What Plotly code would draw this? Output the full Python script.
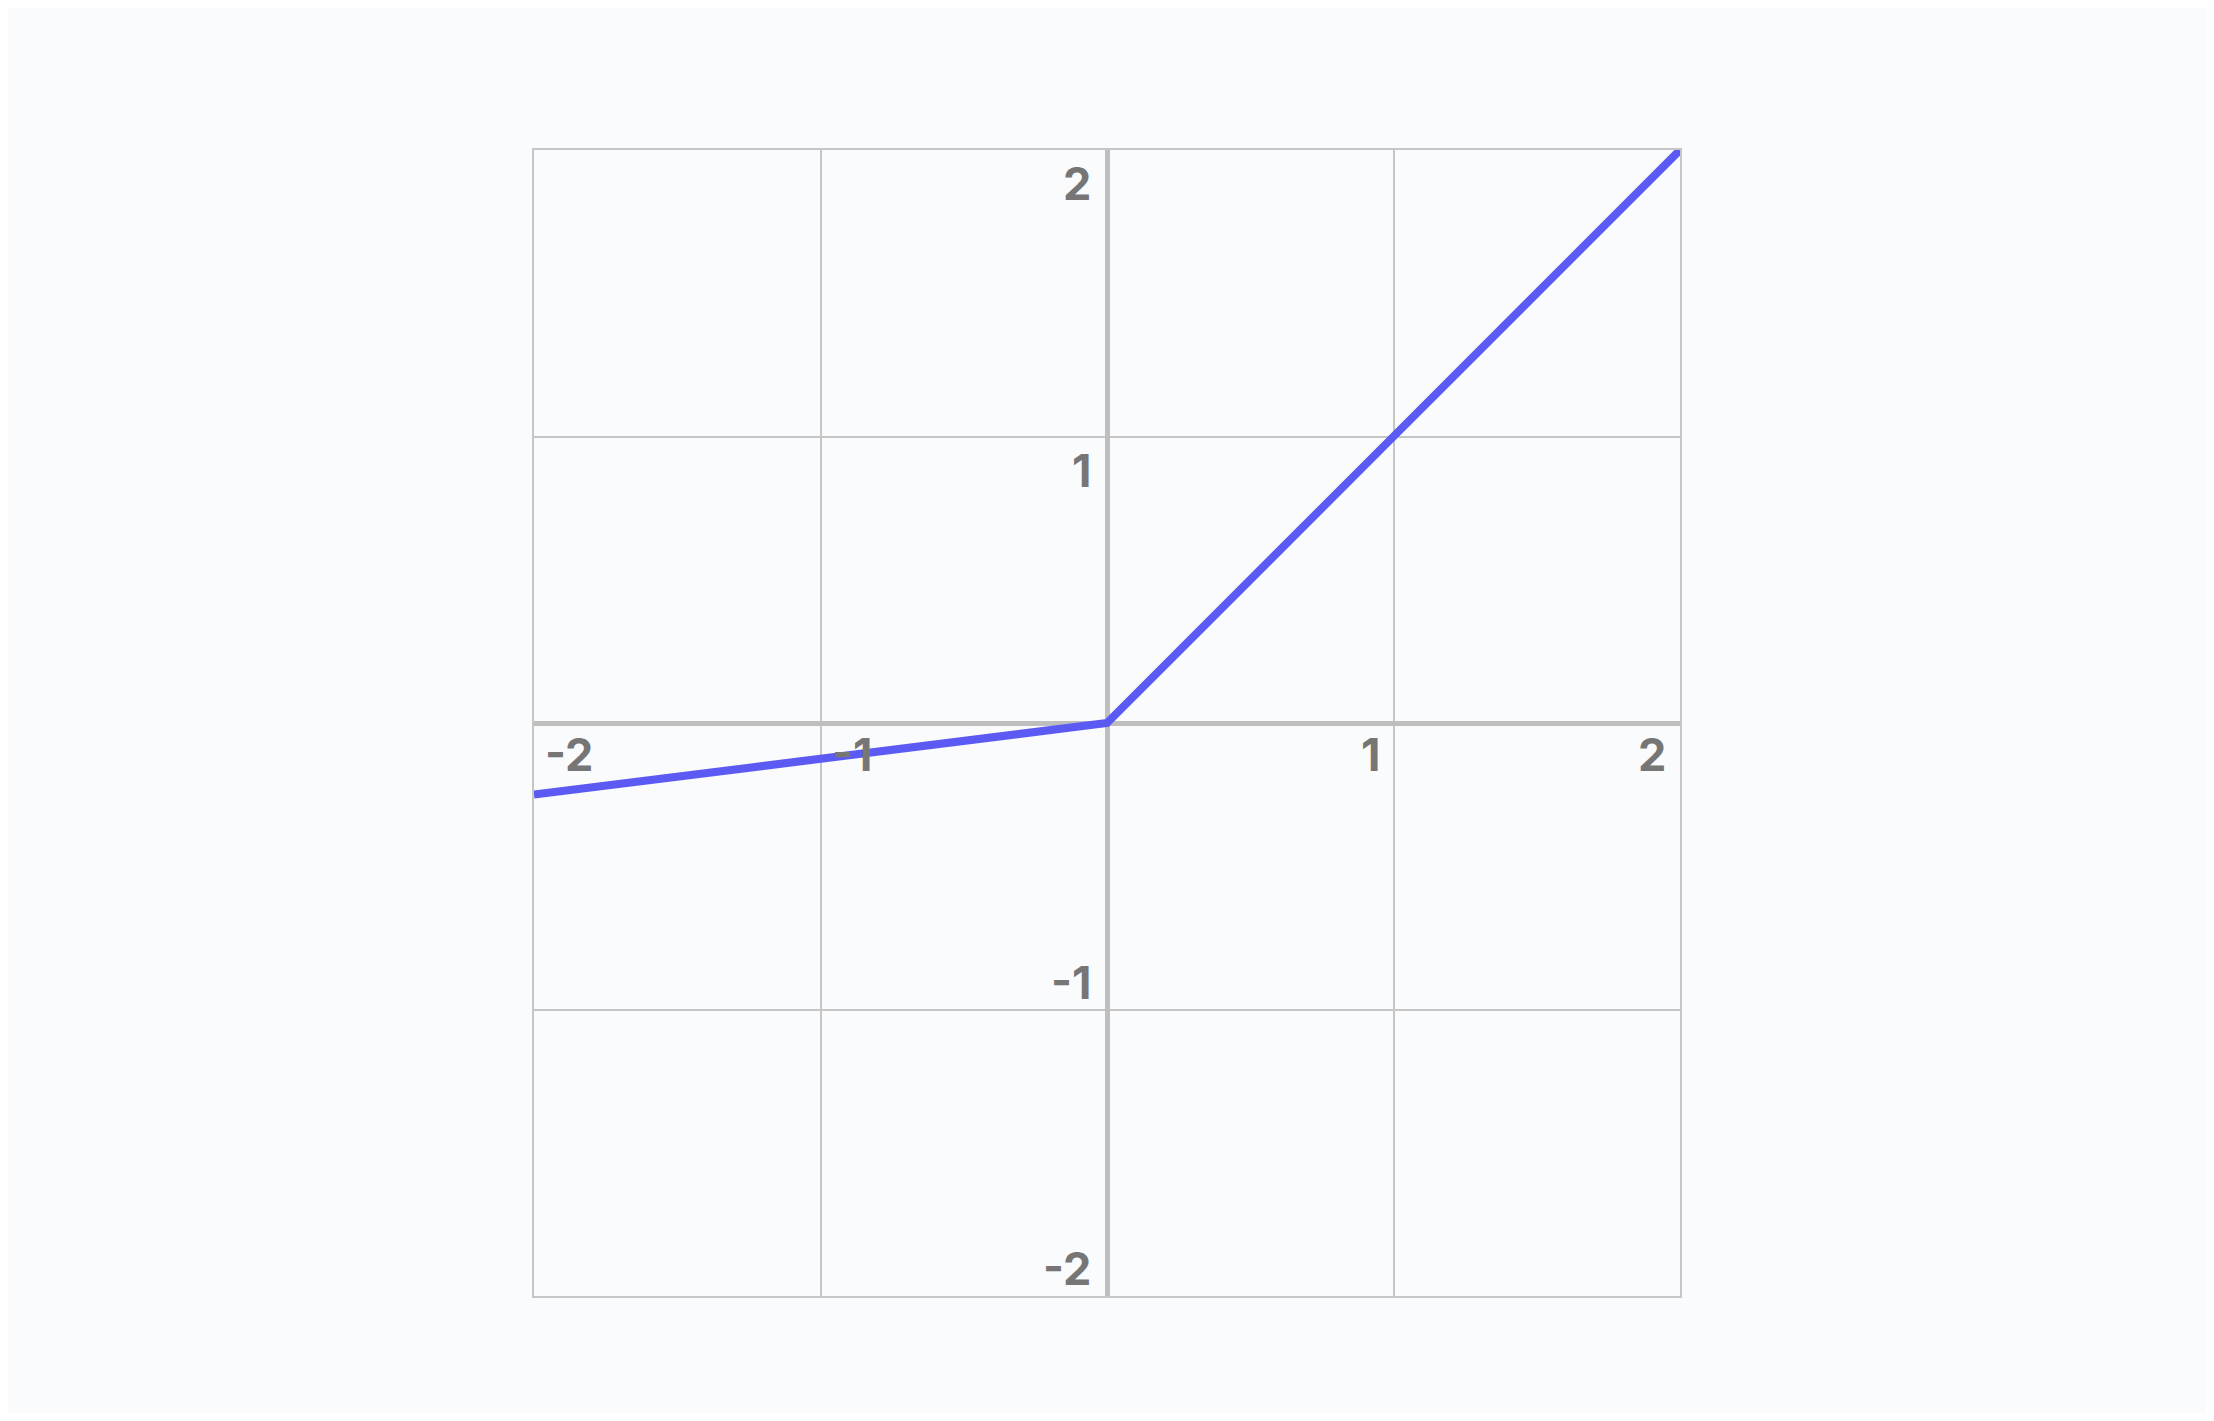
import plotly.graph_objects as go

# leaky relu
x_vals = [-2, -1, 0, 1, 2]
y_vals = [-0.25, -0.125, 0, 1, 2]

tick_vals = [-2, -1, 1, 2]
tick_text = ["-2", "-1", "1", "2"]

fig = go.Figure()
fig.add_trace(go.Scatter(
    x=x_vals, y=y_vals,
    mode="lines",
    line=dict(color="#5b5bf4", width=8),
    hoverinfo="skip",
))

label_font = dict(family="Inter", size=45, color="#767676")

annotations = []
for v, t in zip(tick_vals, tick_text):
    # x labels just under the zero line
    annotations.append(dict(
        x=v, y=0, xref="x", yref="y", text="<b>" + t + "</b>", showarrow=False,
        xanchor="left" if v < 0 else "right", yanchor="top",
        xshift=9 if v < 0 else -12, yshift=-2,
        font=label_font,
    ))
    # y labels left of the zero line
    annotations.append(dict(
        x=0, y=v, xref="x", yref="y", text="<b>" + t + "</b>", showarrow=False,
        xanchor="right", yanchor="top" if v > 0 else "bottom",
        xshift=-14, yshift=-4 if v > 0 else -2,
        font=label_font,
    ))

axis_style = dict(
    range=[-2, 2],
    tickvals=[-2, -1, 0, 1, 2],
    showticklabels=False,
    showgrid=True, gridcolor="#c6c6c6", gridwidth=2,
    zeroline=True, zerolinecolor="#bebebe", zerolinewidth=5,
    showline=True, linecolor="#c6c6c6", linewidth=2, mirror=True,
    fixedrange=True,
)

fig.update_layout(
    width=2198, height=1405,
    margin=dict(l=526, r=526, t=142, b=117),
    paper_bgcolor="#fafbfd",
    plot_bgcolor="rgba(0,0,0,0)",
    showlegend=False,
    xaxis=axis_style,
    yaxis=axis_style,
    annotations=annotations,
)

fig.write_html("out.html")
